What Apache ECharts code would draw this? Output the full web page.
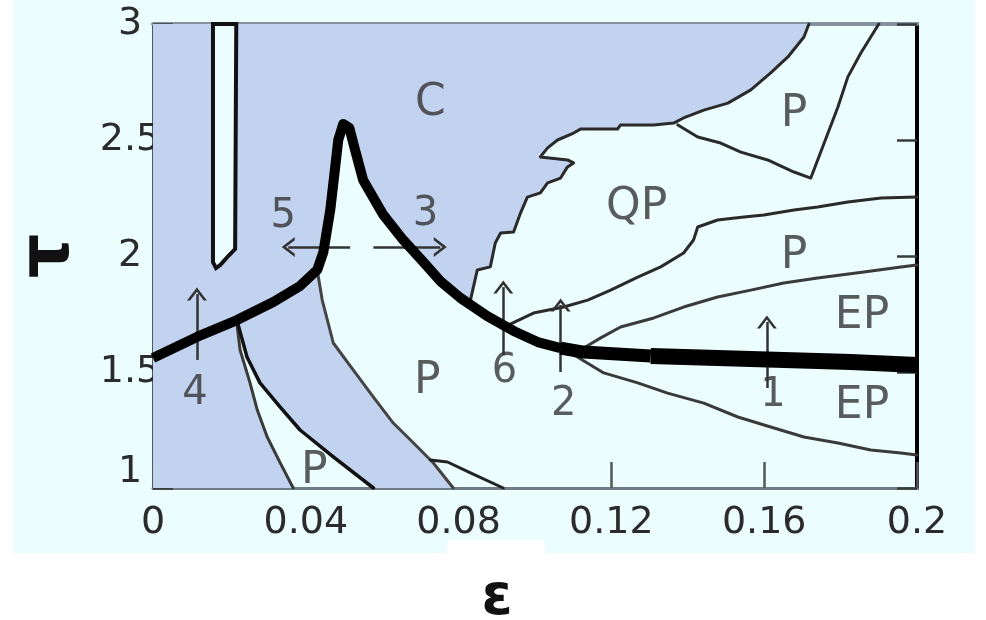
<!DOCTYPE html>
<html><head><meta charset="utf-8">
<script src="https://cdn.jsdelivr.net/npm/echarts@6/dist/echarts.min.js"></script>
<style>html,body{margin:0;padding:0;background:#fff;}#c{width:986px;height:620px;}</style>
</head><body><div id="c"></div>
<script>
// ---- data (epsilon, tau) ----
const xRange = [0, 0.2];
const yRange = [1, 3];
const thickLine = [[0,1.560],[0.0115,1.651],[0.0220,1.724],[0.0315,1.802],[0.0385,1.871],[0.0430,1.940],[0.0446,2.017],[0.0464,2.198],[0.0477,2.384],[0.0485,2.500],[0.0498,2.569],[0.0514,2.552],[0.0529,2.457],[0.0550,2.328],[0.0603,2.177],[0.0655,2.069],[0.0708,1.974],[0.0752,1.892],[0.0805,1.819],[0.0875,1.741],[0.0944,1.677],[0.1007,1.629],[0.1067,1.603],[0.1127,1.586],[0.1303,1.569],[0.1565,1.556],[0.1827,1.543],[0.2,1.530]];
const cBoundary = [[0.1717,3.0],[0.1704,2.944],[0.1662,2.858],[0.1617,2.789],[0.1565,2.716],[0.1505,2.659],[0.1442,2.629],[0.1389,2.595],[0.1363,2.573],[0.1311,2.565],[0.1224,2.565],[0.1216,2.547],[0.1119,2.547],[0.1101,2.530],[0.1059,2.500],[0.1033,2.466],[0.1014,2.427],[0.1085,2.414],[0.1101,2.401],[0.1085,2.384],[0.1067,2.336],[0.1033,2.315],[0.1014,2.272],[0.0980,2.254],[0.0962,2.185],[0.0944,2.103],[0.0910,2.099],[0.0896,2.056],[0.0883,1.953],[0.0849,1.940],[0.0831,1.810]];
const pTriangleLine = [[0.1374,2.565],[0.1426,2.513],[0.1486,2.487],[0.1539,2.448],[0.1609,2.414],[0.1678,2.362],[0.1722,2.336],[0.1740,2.414],[0.1767,2.530],[0.1793,2.642],[0.1819,2.772],[0.1853,2.875],[0.1900,3.0]];
const qpLine = [[0.0931,1.703],[0.0996,1.754],[0.1075,1.780],[0.1138,1.810],[0.1198,1.853],[0.1269,1.909],[0.1329,1.953],[0.1389,2.013],[0.1415,2.069],[0.1426,2.125],[0.1478,2.155],[0.1547,2.168],[0.1599,2.177],[0.1678,2.198],[0.1740,2.211],[0.1819,2.233],[0.1906,2.250],[0.2,2.254]];
const epUpperLine = [[0.1132,1.608],[0.1172,1.647],[0.1224,1.694],[0.1311,1.733],[0.1389,1.780],[0.1478,1.823],[0.1565,1.853],[0.1651,1.884],[0.1740,1.905],[0.1861,1.931],[0.1958,1.953],[0.2,1.961]];
const epLowerLine = [[0.1080,1.595],[0.1111,1.565],[0.1180,1.496],[0.1269,1.453],[0.1347,1.409],[0.1442,1.366],[0.1531,1.306],[0.1617,1.263],[0.1704,1.220],[0.1793,1.194],[0.1879,1.164],[0.1958,1.151],[0.2,1.142]];
const leftGrayLine = [[0.0220,1.703],[0.0228,1.595],[0.0254,1.453],[0.0273,1.336],[0.0299,1.220],[0.0333,1.108],[0.0367,1.0]];
const kinkBlackLine = [[0.0223,1.703],[0.0246,1.565],[0.0280,1.453],[0.0333,1.349],[0.0385,1.250],[0.0472,1.134],[0.0577,1.0]];
const bandCurve = [[0.0432,1.918],[0.0443,1.810],[0.0472,1.625],[0.0524,1.509],[0.0577,1.392],[0.0629,1.280],[0.0682,1.194],[0.0734,1.108],[0.0786,1.0]];
const bottomBranch = [[0.0726,1.121],[0.0771,1.112],[0.0831,1.065],[0.0917,1.0]];
const narrowStrip = [[0.0157,3.0],[0.0157,1.974],[0.0165,1.948],[0.0176,1.961],[0.0197,2.0],[0.0215,2.030],[0.0218,3.0]];
const regionLabels = [
  {name:'C', value:[0.0726,2.655]}, {name:'QP', value:[0.1266,2.207]},
  {name:'P', value:[0.1678,2.608]}, {name:'P', value:[0.1678,1.996]},
  {name:'EP', value:[0.1856,1.737]}, {name:'EP', value:[0.1856,1.349]},
  {name:'P', value:[0.0718,1.457]}, {name:'P', value:[0.0422,1.069]}
];
const pathNumbers = [
  {name:'4', value:[0.0110,1.409]}, {name:'6', value:[0.0920,1.500]},
  {name:'2', value:[0.1075,1.358]}, {name:'1', value:[0.1623,1.397]},
  {name:'5', value:[0.0341,2.168]}, {name:'3', value:[0.0713,2.177]}
];
const pathArrows = [
  [[0.0115,1.552],[0.0115,1.836]],
  [[0.0917,1.573],[0.0917,1.866]],
  [[0.1067,1.500],[0.1067,1.789]],
  [[0.1607,1.431],[0.1607,1.716]],
  [[0.0516,2.039],[0.0354,2.039]],
  [[0.0577,2.039],[0.0752,2.039]]
];
const xTickValues = [0, 0.12, 0.16, 0.2];

// ---- regions built from the boundary arrays ----
const cRegion = [[0,3]].concat(cBoundary, thickLine.filter(p => p[0] < 0.0831).reverse());
const lowerLeftRegion = thickLine.slice(0,3).concat(leftGrayLine, [[0,1]]);
const bandRegion = thickLine.filter(p => p[0] >= 0.0220 && p[0] <= 0.0430).concat(bandCurve, kinkBlackLine.slice().reverse());

const BG = '#ebfdfd', SHADE = '#c2d3ef';
const FONT = 'DejaVu Sans';

function polygon(name, pts, fill, stroke, lw, z) {
  return {
    type:'custom', name, coordinateSystem:'cartesian2d', data: pts, silent:true, z: z, animation:false,
    renderItem: function(params, api) {
      if (params.dataIndex !== 0) return;
      return {type:'polygon', shape:{points: pts.map(p => api.coord(p))},
              style:{fill: fill, stroke: stroke || 'none', lineWidth: lw || 0}};
    }
  };
}
function line(name, pts, color, width, z, cap) {
  return {type:'line', name, data: pts, showSymbol:false, symbol:'none', silent:true, z: z || 4,
          lineStyle:{color, width, cap: cap || 'round', join:'round'}, animation:false};
}

const chart = echarts.init(document.getElementById('c'));
const tickStyle = {show:true, inside:true, length:20, lineStyle:{color:'#3a3a3a', width:2.5}};
chart.setOption({
  backgroundColor: BG,
  animation:false,
  grid:{left:153, right:69, top:24, bottom:132, outerBoundsMode:'none', containLabel:false},
  graphic:{elements:[
    {type:'rect', z:-10, shape:{x:0, y:553, width:986, height:67}, style:{fill:'#fff'}},
    {type:'rect', z:-10, shape:{x:0, y:0, width:13, height:620}, style:{fill:'#fff'}},
    {type:'rect', z:-10, shape:{x:975, y:0, width:11, height:620}, style:{fill:'#fff'}},
    {type:'rect', z:-10, shape:{x:447, y:540, width:98, height:14}, style:{fill:'#fff'}}
  ]},
  xAxis:[{
    type:'value', min:xRange[0], max:xRange[1], interval:0.04, position:'bottom',
    name:'ε', nameLocation:'middle', nameGap:83,
    nameTextStyle:{fontFamily:FONT, fontSize:56, fontWeight:'bold', color:'#111', padding:[0,76,0,0]},
    axisLine:{show:true, lineStyle:{color:'#6f7b87', width:3}},
    axisTick:{show:true, inside:true, length:26, customValues: xTickValues, lineStyle:{color:'#555', width:2.5}},
    axisLabel:{fontFamily:FONT, fontSize:38, color:'#2b2b2b', margin:16},
    splitLine:{show:false}
  },{
    type:'value', min:xRange[0], max:xRange[1], interval:0.04, position:'top',
    axisLine:{show:true, onZero:false, lineStyle:{color:'#8692a1', width:4}},
    axisTick:{show:false}, axisLabel:{show:false}, splitLine:{show:false}
  }],
  yAxis:[{
    type:'value', min:yRange[0], max:yRange[1], interval:0.5, position:'left',
    name:'τ', nameLocation:'middle', nameGap:68, nameRotate:90,
    nameTextStyle:{fontFamily:FONT, fontSize:70, fontWeight:'bold', color:'#111'},
    axisLine:{show:true, lineStyle:{color:'#4d5864', width:3}},
    axisTick:tickStyle,
    axisLabel:{fontFamily:FONT, fontSize:38, color:'#2b2b2b', margin:23, align:'center',
      formatter: v => v === 1 ? '{lift|1}' : String(v),
      rich:{lift:{fontFamily:FONT, fontSize:38, color:'#2b2b2b', padding:[0,0,32,0]}}},
    splitLine:{show:false}
  },{
    type:'value', min:yRange[0], max:yRange[1], interval:0.5, position:'right',
    axisLine:{show:true, onZero:false, lineStyle:{color:'#000', width:4}},
    axisTick:tickStyle, axisLabel:{show:false}, splitLine:{show:false}
  }],
  series:[
    polygon('C region', cRegion, SHADE, null, 0, 1),
    polygon('lower-left region', lowerLeftRegion, SHADE, null, 0, 1),
    polygon('band region', bandRegion, SHADE, null, 0, 1),
    polygon('narrow window', narrowStrip, BG, '#111', 4, 3),
    line('C boundary', cBoundary, '#2a2a2a', 3),
    line('P region edge', pTriangleLine, '#2a2a2a', 3),
    line('QP/P boundary', qpLine, '#2a2a2a', 3),
    line('P/EP boundary', epUpperLine, '#3a3a3a', 3),
    line('EP/EP boundary', epLowerLine, '#3a3a3a', 3),
    line('left boundary', leftGrayLine, '#3a3a3a', 3),
    line('kink boundary', kinkBlackLine, '#111', 3.5),
    line('band boundary', bandCurve, '#444', 3),
    line('bottom branch', bottomBranch, '#222', 3),
    line('main curve', thickLine.slice(0,23), '#000', 10, 6, 'butt'),
    line('main curve mid', thickLine.slice(22,25), '#000', 13, 6, 'butt'),
    line('main curve right', thickLine.slice(24), '#000', 16, 6, 'butt'),
    {type:'line', name:'paths', data:[], silent:true, z:7,
     markLine:{silent:true, animation:false, symbol:['none','path://M50,0 L100,80 L84,80 L50,26 L16,80 L0,80 Z'],
       symbolSize:[20,13], label:{show:false},
       lineStyle:{type:'solid', color:'#333', width:2.5},
       data: pathArrows.map(a => [{coord:a[0]}, {coord:a[1]}])}},
    {type:'scatter', name:'regions', data: regionLabels, symbolSize:2, itemStyle:{color:'rgba(0,0,0,0)'}, silent:true, z:8,
     label:{show:true, position:'inside', formatter:'{b}', fontFamily:FONT, fontSize:44, color:'#333'}},
    {type:'scatter', name:'path numbers', data: pathNumbers, symbolSize:2, itemStyle:{color:'rgba(0,0,0,0)'}, silent:true, z:8,
     label:{show:true, position:'inside', formatter:'{b}', fontFamily:FONT, fontSize:40, color:'#333'}}
  ]
});
</script></body></html>
